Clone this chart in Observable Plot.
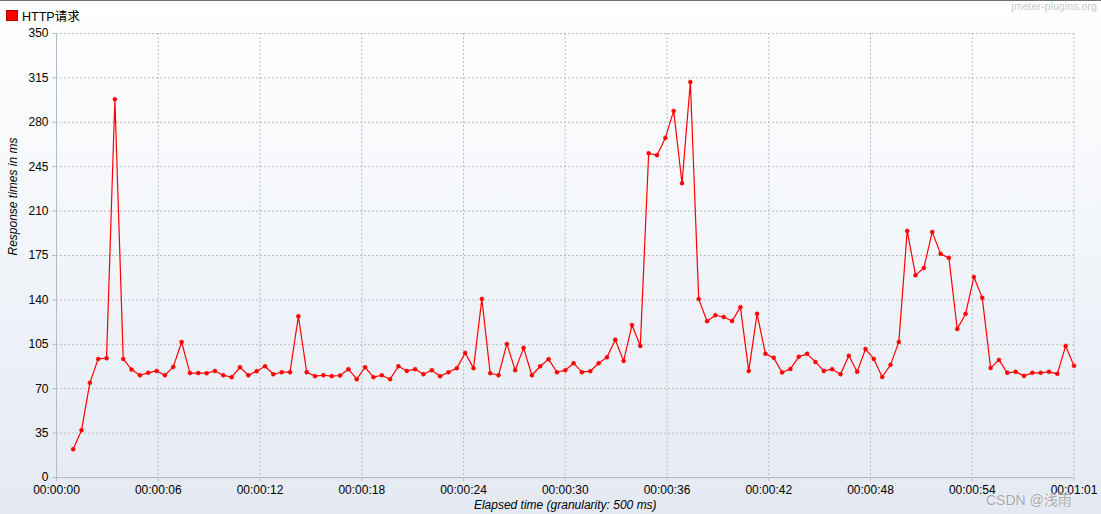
<!DOCTYPE html>
<html>
<head>
<meta charset="utf-8">
<script src="https://cdn.jsdelivr.net/npm/d3@7"></script>
<script src="https://cdn.jsdelivr.net/npm/@observablehq/plot@0.6"></script>
<style>
  html, body { margin: 0; padding: 0; }
  body {
    width: 1101px; height: 514px; overflow: hidden; position: relative;
    background: linear-gradient(to bottom, #ffffff 0%, #f3f6fa 45%, #e4e9f3 100%);
    font-family: "Liberation Sans", Arial, "Noto Sans CJK SC", sans-serif;
  }
  #topline { position: absolute; left: 0; top: 0; width: 1101px; height: 1px; background: #6f6f6f; }
  #legend { position: absolute; left: 6px; top: 8px; height: 14px; display: flex; align-items: center; font-size: 12.5px; color: #000; }
  #legend .sw { width: 10px; height: 9px; background: #ff0000; border: 1px solid #b00000; margin-right: 4px; }
  #brand { position: absolute; right: 4px; top: 1px; font-size: 10px; color: #c3c7cf; letter-spacing: 0.3px; }
  #chart { position: absolute; left: 0; top: 26px; }
  #wm { position: absolute; left: 986px; top: 489px; font-size: 14px; color: rgba(140,140,140,0.75); text-shadow: 0 0 2px #fff; font-family: "Liberation Sans", "Noto Sans CJK SC", sans-serif; }
</style>
</head>
<body>
<div id="topline"></div>
<div id="legend"><div class="sw"></div><span id="legendLabel"></span></div>
<div id="brand">jmeter-plugins.org</div>
<div id="chart"></div>
<div id="wm">CSDN @浅雨</div>
<script>
// ---- data ----
const seriesName = "HTTP请求";
const elapsedSeconds = [
  1, 1.5, 2, 2.5, 3, 3.5, 4, 4.5, 5, 5.5, 6, 6.5, 7, 7.5, 8, 8.5, 9, 9.5, 10, 10.5,
  11, 11.5, 12, 12.5, 13, 13.5, 14, 14.5, 15, 15.5, 16, 16.5, 17, 17.5, 18, 18.5, 19, 19.5, 20, 20.5,
  21, 21.5, 22, 22.5, 23, 23.5, 24, 24.5, 25, 25.5, 26, 26.5, 27, 27.5, 28, 28.5, 29, 29.5, 30, 30.5,
  31, 31.5, 32, 32.5, 33, 33.5, 34, 34.5, 35, 35.5, 36, 36.5, 37, 37.5, 38, 38.5, 39, 39.5, 40, 40.5,
  41, 41.5, 42, 42.5, 43, 43.5, 44, 44.5, 45, 45.5, 46, 46.5, 47, 47.5, 48, 48.5, 49, 49.5, 50, 50.5,
  51, 51.5, 52, 52.5, 53, 53.5, 54, 54.5, 55, 55.5, 56, 56.5, 57, 57.5, 58, 58.5, 59, 59.5, 60, 60.5, 61
];
const responseMs = [
  22.3, 37.3, 74.6, 93.5, 94.0, 298.2, 93.5, 85.1, 80.6, 82.5, 84.0, 80.6, 87.2, 106.8, 82.3, 82.3, 82.2, 84.0, 80.6, 79.1,
  86.9, 80.6, 83.8, 87.7, 81.4, 83.0, 83.0, 127.1, 83.0, 79.9, 80.6, 79.9, 80.4, 85.4, 77.5, 86.9, 79.1, 80.6, 77.5, 87.7,
  84.0, 85.4, 81.4, 84.6, 79.9, 83.0, 86.2, 98.2, 86.2, 140.8, 82.2, 80.6, 105.3, 84.6, 102.2, 80.6, 87.7, 93.3, 83.0, 84.6,
  90.1, 83.0, 83.8, 90.1, 94.8, 108.5, 91.9, 120.2, 103.7, 255.6, 254.1, 267.7, 289.0, 232.0, 311.8, 140.8, 123.2, 127.9, 126.5, 123.3,
  134.3, 83.9, 129.0, 97.5, 94.3, 82.8, 85.6, 95.1, 97.5, 91.1, 84.0, 85.4, 81.4, 95.9, 83.3, 101.2, 93.5, 79.2, 88.8, 106.9,
  194.4, 159.5, 165.2, 193.6, 176.3, 173.1, 117.1, 129.0, 158.1, 141.6, 86.4, 92.7, 82.5, 83.3, 80.1, 82.5, 82.5, 83.3, 81.7, 103.7, 88.0
];
const xTickSeconds = [0, 6.1, 12.2, 18.3, 24.4, 30.5, 36.6, 42.7, 48.8, 54.9, 61];
const xTickLabels = ["00:00:00", "00:00:06", "00:00:12", "00:00:18", "00:00:24", "00:00:30", "00:00:36", "00:00:42", "00:00:48", "00:00:54", "00:01:01"];
const yTicks = [0, 35, 70, 105, 140, 175, 210, 245, 280, 315, 350];
const xTitle = "Elapsed time (granularity: 500 ms)";
const yTitle = "Response times in ms";

const data = elapsedSeconds.map((t, i) => ({t, v: responseMs[i]}));
document.getElementById("legendLabel").textContent = seriesName;

const fmtX = (d) => xTickLabels[xTickSeconds.indexOf(d)];

const chart = Plot.plot({
  width: 1101,
  height: 488,
  marginTop: 7,
  marginBottom: 37,
  marginLeft: 56,
  marginRight: 27.5,
  x: {domain: [0, 61]},
  y: {domain: [0, 350]},
  style: {background: "transparent", fontFamily: "'Liberation Sans', Arial, sans-serif", fontSize: "12px", color: "#000"},
  marks: [
    Plot.gridX(xTickSeconds, {stroke: "#b9bcc4", strokeOpacity: 1, strokeDasharray: "2,2"}),
    Plot.gridY(yTicks, {stroke: "#b9bcc4", strokeOpacity: 1, strokeDasharray: "2,2"}),
    Plot.ruleX([0], {stroke: "#b3bbc9", strokeWidth: 1}),
    Plot.ruleY([0], {stroke: "#b3bbc9", strokeWidth: 1}),
    Plot.axisX(xTickSeconds, {tickFormat: fmtX, tickSize: 4, tickPadding: 4, stroke: "#b3bbc9", fill: "#000", label: null}),
    Plot.axisY(yTicks, {tickSize: 4, tickPadding: 4, stroke: "#b3bbc9", fill: "#000", label: null}),
    Plot.line(data, {x: "t", y: "v", stroke: "#ff0000", strokeWidth: 1.2}),
    Plot.dot(data, {x: "t", y: "v", r: 2, fill: "#ff0000", stroke: "#ff0000", strokeWidth: 0.5}),
    Plot.text([yTitle], {frameAnchor: "left", rotate: -90, dx: -43, text: d => d, fontStyle: "italic", fontSize: 12, fill: "#000"}),
    Plot.text([xTitle], {frameAnchor: "bottom", dy: 31, text: d => d, fontStyle: "italic", fontSize: 12, fill: "#000"})
  ]
});
document.getElementById("chart").appendChild(chart);
</script>
</body>
</html>
